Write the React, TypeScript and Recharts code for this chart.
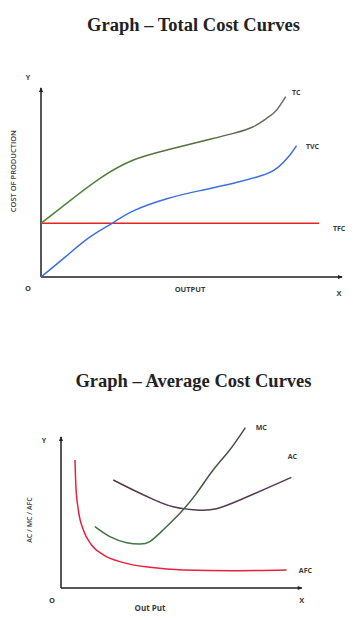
import React from 'react';
import { LineChart, Line, XAxis, YAxis, ReferenceLine, ReferenceDot } from 'recharts';

// ---- Total cost curves ----
const tcX = [0, 8.5, 19.6, 30.7, 41.8, 52.8, 63.9, 70.5, 75, 78.3, 81.3];
const tcY = [28.4, 39, 52.2, 61.9, 67.2, 71.6, 76, 79.5, 84, 88.4, 95.4];
const tvcX = [0, 8.5, 16.3, 24, 30.7, 41.8, 52.8, 63.9, 72.8, 78.3, 82.7, 84.9];
const tvcY = [0, 11.2, 21.2, 28.8, 35, 41.4, 45.7, 49.6, 53.4, 57.5, 64.6, 69.5];
const tfcX = [0, 92.4];
const tfcY = [28.4, 28.4];
const topNames = ['TC', 'TVC', 'TFC'];
const topAxisNames = ['Y', 'O', 'X', 'OUTPUT', 'COST OF PRODUCTION'];
const topTitle = 'Graph – Total Cost Curves';

// ---- Average cost curves ----
const afcX = [5.8, 6.2, 7.2, 9.3, 12.7, 17.6, 25.9, 36.9, 50.8, 71.5, 93.7];
const afcY = [84.8, 67.1, 51.7, 38.4, 28.5, 21.9, 16.8, 13.7, 11.9, 11.5, 11.9];
const mcX = [14.1, 20.3, 27.3, 32.8, 36.9, 42.4, 49.4, 56.3, 63.2, 70.1, 76.6];
const mcY = [40.6, 34, 30, 29.1, 30.7, 38.4, 49.5, 62.7, 78.1, 91.4, 106.2];
const acX = [21.7, 30, 38.3, 46.6, 56.3, 64.6, 74.3, 85.4, 95.7];
const acY = [71.5, 64.9, 58.7, 53.8, 51.7, 52.5, 58.3, 66, 73.3];
const bottomNames = ['MC', 'AC', 'AFC'];
const bottomAxisNames = ['Y', 'O', 'X', 'Out Put', 'AC / MC / AFC'];
const bottomTitle = 'Graph – Average Cost Curves';

const toPts = (xs: number[], ys: number[]) => xs.map((x, i) => ({ x, y: ys[i] }));

const labelFont = '"Open Sans", "DejaVu Sans", sans-serif';

const txt = (t: string, anchor: string = 'start', size: number = 7, rotate: boolean = false, weight: number = 700) => (p: any) => {
  if (p.cx == null || p.cy == null) return <g />;
  return (
    <text
      x={p.cx}
      y={p.cy}
      textAnchor={anchor}
      dominantBaseline="central"
      fontFamily={labelFont}
      fontWeight={weight}
      fontSize={size}
      fill="#3a3a3a"
      transform={rotate ? `rotate(-90 ${p.cx} ${p.cy})` : undefined}
    >
      {t}
    </text>
  );
};

const arrowUp = (p: any) => (
  p.cx == null ? <g /> : <path d={`M${p.cx - 2},${p.cy + 4} L${p.cx},${p.cy - 1} L${p.cx + 2},${p.cy + 4} Z`} fill="#222" />
);
const arrowRight = (p: any) => (
  p.cx == null ? <g /> : <path d={`M${p.cx - 4},${p.cy - 2} L${p.cx + 1},${p.cy} L${p.cx - 4},${p.cy + 2} Z`} fill="#222" />
);

const titleStyle: React.CSSProperties = {
  position: 'absolute',
  left: 0,
  width: 387,
  textAlign: 'center',
  fontFamily: '"Liberation Serif", serif',
  fontWeight: 700,
  fontSize: 18.5,
  lineHeight: '18px',
  color: '#222',
  whiteSpace: 'nowrap',
};

export default function App() {
  const tc = toPts(tcX, tcY);
  const tvc = toPts(tvcX, tvcY);
  const tfc = toPts(tfcX, tfcY);
  const afc = toPts(afcX, afcY);
  const mc = toPts(mcX, mcY);
  const ac = toPts(acX, acY);

  return (
    <div style={{ position: 'absolute', left: 0, top: 0, width: 359, height: 620, background: '#fff' }}>
      <div style={{ ...titleStyle, top: 16 }}>{topTitle}</div>
      <div style={{ position: 'absolute', left: 0, top: 0 }}>
        <LineChart width={359} height={300} margin={{ top: 88, right: 17, bottom: 23, left: 41 }}>
          <defs>
            <linearGradient id="tcGrad" x1="0" y1="0" x2="1" y2="0">
              <stop offset="0%" stopColor="#4f8a3a" />
              <stop offset="70%" stopColor="#556b40" />
              <stop offset="100%" stopColor="#6d6d6d" />
            </linearGradient>
          </defs>
          <XAxis type="number" dataKey="x" domain={[0, 100]} hide allowDataOverflow />
          <YAxis type="number" dataKey="y" domain={[0, 100]} hide allowDataOverflow />
          <ReferenceLine segment={[{ x: 0, y: 0 }, { x: 0, y: 100 }]} stroke="#1e1e1e" strokeWidth={1.5} ifOverflow="visible" />
          <ReferenceLine segment={[{ x: 0, y: 0 }, { x: 100, y: 0 }]} stroke="#1e1e1e" strokeWidth={1.5} ifOverflow="visible" />
          <ReferenceDot x={0} y={100} r={0} ifOverflow="visible" shape={arrowUp} />
          <ReferenceDot x={100} y={0} r={0} ifOverflow="visible" shape={arrowRight} />
          <Line data={tfc} dataKey="y" type="linear" stroke="#e8231f" strokeWidth={1.5} dot={false} isAnimationActive={false} />
          <Line data={tvc} dataKey="y" type="natural" stroke="#3d6fe0" strokeWidth={1.5} dot={false} isAnimationActive={false} />
          <Line data={tc} dataKey="y" type="natural" stroke="url(#tcGrad)" strokeWidth={1.5} dot={false} isAnimationActive={false} />
          <ReferenceDot x={83.4} y={97.4} r={0} ifOverflow="visible" shape={txt(topNames[0])} />
          <ReferenceDot x={88} y={69.3} r={0} ifOverflow="visible" shape={txt(topNames[1])} />
          <ReferenceDot x={97} y={25.9} r={0} ifOverflow="visible" shape={txt(topNames[2])} />
          <ReferenceDot x={-4.3} y={105.8} r={0} ifOverflow="visible" shape={txt(topAxisNames[0], 'middle')} />
          <ReferenceDot x={-4.3} y={-5.8} r={0} ifOverflow="visible" shape={txt(topAxisNames[1], 'middle', 7.5)} />
          <ReferenceDot x={99} y={-8.5} r={0} ifOverflow="visible" shape={txt(topAxisNames[2], 'middle', 7.5)} />
          <ReferenceDot x={49.5} y={-6.4} r={0} ifOverflow="visible" shape={txt(topAxisNames[3], 'middle', 7.5)} />
          <ReferenceDot x={-9.3} y={56} r={0} ifOverflow="visible" shape={txt(topAxisNames[4], 'middle', 7.5, true, 600)} />
        </LineChart>
      </div>

      <div style={{ ...titleStyle, top: 372 }}>{bottomTitle}</div>
      <div style={{ position: 'absolute', left: 0, top: 400 }}>
        <LineChart width={359} height={220} margin={{ top: 21.9, right: 57.3, bottom: 32, left: 61 }}>
          <defs>
            <linearGradient id="mcGrad" x1="0" y1="1" x2="0" y2="0">
              <stop offset="0%" stopColor="#3f7a45" />
              <stop offset="35%" stopColor="#3f5f45" />
              <stop offset="100%" stopColor="#4a4a4a" />
            </linearGradient>
          </defs>
          <XAxis type="number" dataKey="x" domain={[0, 100]} hide allowDataOverflow />
          <YAxis type="number" dataKey="y" domain={[0, 110]} hide allowDataOverflow />
          <ReferenceLine segment={[{ x: 0, y: 0 }, { x: 0, y: 100 }]} stroke="#1e1e1e" strokeWidth={1.5} ifOverflow="visible" />
          <ReferenceLine segment={[{ x: 0, y: 0 }, { x: 100, y: 0 }]} stroke="#1e1e1e" strokeWidth={1.5} ifOverflow="visible" />
          <ReferenceDot x={0} y={100} r={0} ifOverflow="visible" shape={arrowUp} />
          <ReferenceDot x={100} y={0} r={0} ifOverflow="visible" shape={arrowRight} />
          <Line data={afc} dataKey="y" type="monotone" stroke="#e8203a" strokeWidth={1.5} dot={false} isAnimationActive={false} />
          <Line data={ac} dataKey="y" type="natural" stroke="#543a50" strokeWidth={1.5} dot={false} isAnimationActive={false} />
          <Line data={mc} dataKey="y" type="natural" stroke="url(#mcGrad)" strokeWidth={1.5} dot={false} isAnimationActive={false} />
          <ReferenceDot x={80.9} y={106} r={0} ifOverflow="visible" shape={txt(bottomNames[0])} />
          <ReferenceDot x={94.2} y={87.4} r={0} ifOverflow="visible" shape={txt(bottomNames[1])} />
          <ReferenceDot x={98.8} y={11.9} r={0} ifOverflow="visible" shape={txt(bottomNames[2])} />
          <ReferenceDot x={-7.1} y={98} r={0} ifOverflow="visible" shape={txt(bottomAxisNames[0], 'middle')} />
          <ReferenceDot x={-3.7} y={-7.9} r={0} ifOverflow="visible" shape={txt(bottomAxisNames[1], 'middle', 7.5)} />
          <ReferenceDot x={100} y={-7.9} r={0} ifOverflow="visible" shape={txt(bottomAxisNames[2], 'middle', 7.5)} />
          <ReferenceDot x={37} y={-12.6} r={0} ifOverflow="visible" shape={txt(bottomAxisNames[3], 'middle', 8)} />
          <ReferenceDot x={-12.9} y={45} r={0} ifOverflow="visible" shape={txt(bottomAxisNames[4], 'middle', 7, true, 600)} />
        </LineChart>
      </div>
    </div>
  );
}
